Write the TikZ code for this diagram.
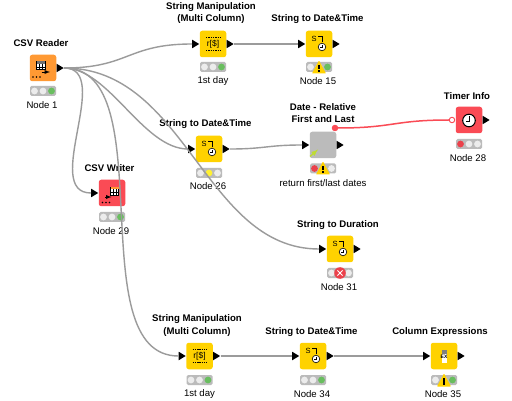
\documentclass[tikz,border=0pt]{standalone}
\usepackage{fontspec}
\setmainfont{Liberation Sans}
\usetikzlibrary{positioning,shapes.geometric}
\definecolor{wfyellow}{RGB}{255,210,0}
\definecolor{wforange}{RGB}{255,153,51}
\definecolor{wfred}{RGB}{250,75,85}
\definecolor{wfgrey}{RGB}{187,187,187}
\definecolor{wirecol}{RGB}{155,155,155}
\definecolor{lampoff}{RGB}{236,236,236}
\definecolor{lampgreen}{RGB}{105,190,95}
\definecolor{lampred}{RGB}{235,65,75}
\definecolor{lampyellow}{RGB}{255,240,50}
\definecolor{kickcol}{RGB}{190,220,50}
\tikzset{
  knode/.style={fill=#1,rounded corners=2.5pt,minimum size=26.5pt,inner sep=0pt},
  knode/.default=wfyellow,
  title/.style={font=\fontsize{9.6}{12.4}\selectfont\bfseries,align=center,inner sep=0pt},
  nodelabel/.style={font=\fontsize{9.6}{11.6}\selectfont,inner sep=0pt},
  outport/.style={isosceles triangle,isosceles triangle apex angle=70,isosceles triangle stretches,
    fill=black,inner sep=0pt,minimum width=8.5pt,minimum height=7pt},
  wire/.style={draw=wirecol,line width=1.4pt},
  varwire/.style={draw=wfred,line width=1.5pt},
  varport/.style={circle,draw=wfred,fill=#1,line width=0.9pt,inner sep=0pt,minimum size=5.5pt},
  icontext/.style={font=\fontsize{#1}{#1}\selectfont,inner sep=0pt},
  % pictograms
  pics/lights/.style n args={3}{code={
    \fill[wfgrey,rounded corners=1.5pt] (-13,-5) rectangle (13,5);
    \fill[#1] (-8.5,0) circle (3.4);
    \fill[#2] (0,0) circle (3.4);
    \fill[#3] (8.5,0) circle (3.4);
  }},
  pics/warn/.style={code={
    \fill[wfyellow,rounded corners=0.6pt] (-7,6.5) -- (0,-6.5) -- (7,6.5) -- cycle;
    \fill[black] (-0.9,-2) rectangle (0.9,2.5);
    \fill[black] (-0.9,3.3) rectangle (0.9,5);
  }},
  pics/fail/.style={code={
    \fill[lampred] (0,0) circle (5.8);
    \draw[white,line width=1pt] (-2.6,-2.6) -- (2.6,2.6) (-2.6,2.6) -- (2.6,-2.6);
  }},
  pics/strtime/.style={code={
    \node[icontext=7.5] (symS) at (-5,-5) {S};
    \draw[black,line width=0.6pt] (-1,-7.5) -- (3,-7.5) -- (3,-2);
    \fill[white,draw=black,line width=0.6pt] (3,3) circle (3.8);
    \draw[black,line width=0.5pt] (3,0.8) -- (3,3) -- (1.2,3);
  }},
  pics/manip/.style={code={
    \draw[black,line width=0.7pt,dash pattern=on 1.4pt off 0.9pt] (-7,-6.5) -- (7,-6.5) (-7,6.5) -- (7,6.5);
    \node[icontext=8.5] (symM) at (0,0) {r[\$]};
  }},
  pics/table/.style={code={
    \fill[white,draw=black,line width=0.5pt] (-6.5,-6.5) rectangle (2,1.5);
    \fill[black!55] (-6.5,-6.5) rectangle (2,-4);
    \draw[black,line width=0.35pt] (-6.5,-1.2) -- (2,-1.2) (-3.7,-4) -- (-3.7,1.5) (-0.8,-4) -- (-0.8,1.5);
    \draw[black,line width=0.9pt,-{latex}] (-1.5,4) -- (7,4);
    \foreach \x in {-10,-6.5,-3} \fill[black] (\x,9) circle (0.8);
  }},
  pics/tablew/.style={code={
    \fill[white,draw=black,line width=0.5pt] (-1.3,-6) rectangle (6.7,2);
    \fill[wforange] (-1.3,-6) rectangle (6.7,-3.5);
    \draw[black,line width=0.35pt] (-1.3,-0.8) -- (6.7,-0.8) (1.4,-3.5) -- (1.4,2) (4,-3.5) -- (4,2);
    \draw[black,line width=0.9pt,-{latex}] (-7,4) -- (-0.5,4);
    \foreach \x in {-9.5,-6,-2.5} \fill[black] (\x,9.5) circle (0.8);
  }},
  pics/timer/.style={code={
    \fill[white,draw=black,line width=1pt] (0,0.5) circle (6.3);
    \draw[black,line width=0.8pt] (0,-3.8) -- (0,1.5) -- (-3.5,1.5);
  }},
  pics/exprs/.style={code={
    \fill[white] (-2.5,-6) rectangle (2.5,6.7);
    \fill[black!50] (-2.5,-6) rectangle (2.5,-2);
    \node[icontext=5] (symE) at (0,1) {\bfseries EX};
  }},
  pics/kick/.style={code={
    \draw[kickcol,line width=1.3pt,-{latex}] (-13,11.5) -- (-5,4.5);
  }},
}

\begin{document}
\begin{tikzpicture}[x=1pt,y=-1pt]
  \path[fill=white,use as bounding box] (0,0) rectangle (512,401);

  % top row
  \node[title] (readert) at (41,43) {CSV Reader};
  \node[knode=wforange] (reader) at (43,68) {};
  \node[outport,right=0pt of reader] (readerout) {};
  \pic at (43,68) {table};
  \pic at (43,91) {lights={lampoff}{lampoff}{lampgreen}};
  \node[nodelabel] (readerl) at (42,105.5) {Node 1};

  \node[title] (manipat) at (211,13) {String Manipulation\\(Multi Column)};
  \node[knode] (manipa) at (213,44) {};
  \node[outport,left=0pt of manipa] (manipain) {};
  \node[outport,right=0pt of manipa] (manipaout) {};
  \pic at (213,44) {manip};
  \pic at (213,67) {lights={lampoff}{lampoff}{lampgreen}};
  \node[nodelabel] (manipal) at (213,81.5) {1st day};

  \node[title] (datect) at (317.5,19) {String to Date\&Time};
  \node[knode] (datec) at (319,44) {};
  \node[outport,left=0pt of datec] (datecin) {};
  \node[outport,right=0pt of datec] (datecout) {};
  \pic at (319,44) {strtime};
  \pic at (319,67) {lights={lampoff}{lampoff}{lampgreen}};
  \pic at (319,67) {warn};
  \node[nodelabel] (datecl) at (318,81.5) {Node 15};

  % middle
  \node[title] (dateat) at (205.5,124) {String to Date\&Time};
  \node[knode] (datea) at (209,149) {};
  \node[outport,left=0pt of datea] (dateain) {};
  \node[outport,right=0pt of datea] (dateaout) {};
  \pic at (209,149) {strtime};
  \pic at (209,173) {lights={lampoff}{lampyellow}{lampoff}};
  \node[nodelabel] (dateal) at (208,186.5) {Node 26};

  \node[title] (relt) at (323,113) {Date - Relative\\First and Last};
  \node[knode=wfgrey] (rel) at (323,145) {};
  \node[outport,left=0pt of rel] (relin) {};
  \node[outport,right=0pt of rel] (relout) {};
  \node[varport=wfred] (relvar) at (335,128) {};
  \pic at (323,145) {kick};
  \pic at (323,168.5) {lights={lampred}{lampoff}{lampoff}};
  \pic at (323,168) {warn};
  \node[nodelabel] (rell) at (323,183.5) {return first/last dates};

  \node[title] (timert) at (467,96) {Timer Info};
  \node[knode=wfred] (timer) at (469,120) {};
  \node[outport,right=0pt of timer] (timerout) {};
  \node[varport=white] (timervar) at (452,120) {};
  \pic at (469,120) {timer};
  \pic at (469,144) {lights={lampred}{lampoff}{lampoff}};
  \node[nodelabel] (timerl) at (468,158.5) {Node 28};

  \node[title] (writert) at (109.5,168) {CSV Writer};
  \node[knode=wfred] (writer) at (112,193) {};
  \node[outport,left=0pt of writer] (writerin) {};
  \pic at (112,193) {tablew};
  \pic at (112,217) {lights={lampoff}{lampoff}{lampgreen}};
  \node[nodelabel] (writerl) at (111,231.5) {Node 29};

  \node[title] (durt) at (338,225) {String to Duration};
  \node[knode] (dur) at (340,249) {};
  \node[outport,left=0pt of dur] (durin) {};
  \node[outport,right=0pt of dur] (durout) {};
  \pic at (340,249) {strtime};
  \pic at (340,273) {lights={lampoff}{lampoff}{lampoff}};
  \pic at (340,273) {fail};
  \node[nodelabel] (durl) at (339,287.5) {Node 31};

  % bottom row
  \node[title] (manipbt) at (197,325.5) {String Manipulation\\(Multi Column)};
  \node[knode] (manipb) at (199.5,356) {};
  \node[outport,left=0pt of manipb] (manipbin) {};
  \node[outport,right=0pt of manipb] (manipbout) {};
  \pic at (199.5,356) {manip};
  \pic at (199.5,380) {lights={lampoff}{lampoff}{lampgreen}};
  \node[nodelabel] (manipbl) at (199.5,394.5) {1st day};

  \node[title] (datebt) at (311.5,332) {String to Date\&Time};
  \node[knode] (dateb) at (313,356) {};
  \node[outport,left=0pt of dateb] (datebin) {};
  \node[outport,right=0pt of dateb] (datebout) {};
  \pic at (313,356) {strtime};
  \pic at (313,380) {lights={lampoff}{lampoff}{lampgreen}};
  \node[nodelabel] (datebl) at (312,394.5) {Node 34};

  \node[title] (exprt) at (440,332) {Column Expressions};
  \node[knode] (expr) at (444,356) {};
  \node[outport,left=0pt of expr] (exprin) {};
  \node[outport,right=0pt of expr] (exprout) {};
  \pic at (444,356) {exprs};
  \pic at (444,380) {lights={lampoff}{lampoff}{lampgreen}};
  \pic at (444,380) {warn};
  \node[nodelabel] (exprl) at (443,394.5) {Node 35};

  % connectors
  \draw[wire] (readerout.east) .. controls +(65,0) and +(-65,0) .. (manipain.west);
  \draw[wire] (readerout.east) .. controls +(50,0) and +(-50,0) .. (writerin.west);
  \draw[wire] (readerout.east) .. controls +(45,0) and +(-45,0) .. (dateain.west);
  \draw[wire] (readerout.east) .. controls +(123,0) and +(-115,0) .. (durin.west);
  \draw[wire] (readerout.east) .. controls +(100,0) and +(-100,0) .. (manipbin.west);
  \draw[wire] (manipaout.east) -- (datecin.west);
  \draw[wire] (dateaout.east) .. controls +(35,0) and +(-35,0) .. (relin.west);
  \draw[wire] (manipbout.east) -- (datebin.west);
  \draw[wire] (datebout.east) -- (exprin.west);
  \draw[varwire] (relvar.east) .. controls +(55,0) and +(-55,0) .. (timervar.west);
\end{tikzpicture}
\end{document}
